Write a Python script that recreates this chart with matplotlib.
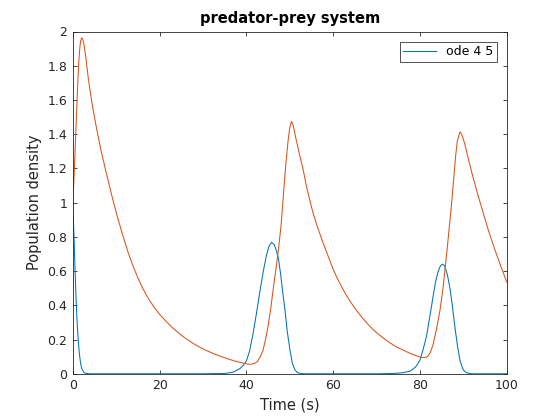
import matplotlib
matplotlib.use("Agg")
import matplotlib.pyplot as plt
from matplotlib.ticker import FormatStrFormatter, MultipleLocator

# values
# first series (blue, in legend as "ode 4 5")
t_blue = [0, 0.25, 0.5, 0.75, 1.0, 1.25, 1.5, 1.75, 2.0, 2.5, 3.0, 4.0, 10, 20, 30,
          35, 37, 38.5, 39.3, 40, 40.7, 41.5, 42.3, 43.1, 43.9, 44.6, 45.2, 45.8, 46.4,
          46.9, 47.4, 47.9, 48.4, 48.9, 49.4, 50.0, 50.6, 51.2, 51.8, 52.5, 53.5,
          60, 70, 74, 76, 77.7, 79, 80, 80.8, 81.5, 82.3, 83, 83.6, 84.2, 84.7, 85.2,
          85.7, 86.3, 86.9, 87.5, 88, 88.6, 89.2, 89.8, 90.3, 91, 92, 100]
y_blue = [1.0, 0.82, 0.62, 0.44, 0.3, 0.2, 0.12, 0.07, 0.035, 0.01, 0.002, 0.0, 0, 0, 0,
          0.002, 0.01, 0.03, 0.05, 0.075, 0.13, 0.23, 0.35, 0.48, 0.6, 0.69, 0.745, 0.768, 0.755,
          0.72, 0.67, 0.58, 0.47, 0.37, 0.25, 0.145, 0.06, 0.022, 0.007, 0.002, 0,
          0, 0, 0.002, 0.006, 0.015, 0.04, 0.08, 0.15, 0.22, 0.34, 0.45, 0.54, 0.6, 0.63, 0.641,
          0.63, 0.58, 0.5, 0.39, 0.28, 0.17, 0.08, 0.032, 0.013, 0.004, 0, 0]

# second series (orange)
t_orange = [0, 0.2, 0.4, 0.6, 0.8, 1.0, 1.2, 1.4, 1.6, 1.8, 2.05, 2.3, 2.6, 3.0, 3.5,
            4.0, 4.6, 5.5, 6.5, 7.7, 9.2, 10.3, 11.5, 12.6, 13.8, 15.0, 16.1, 17.4, 18.7,
            20.1, 21.6, 23.1, 24.7, 26.2, 27.7, 29.6, 31.6, 33.5, 35.4, 37.0, 38.5, 39.5,
            40.3, 41.0, 41.8, 42.5, 43.2, 43.8, 44.4, 45.0, 45.6, 46.2, 46.8, 47.4, 48.0,
            48.6, 49.1, 49.6, 50.0, 50.4, 50.8, 51.5, 52.3, 53.1, 53.8, 54.6, 55.3, 56.1,
            56.9, 57.7, 58.8, 60.0, 61, 62, 63, 64, 65, 66, 67, 68, 69, 70, 71.5, 73, 74.5,
            76, 77.5, 78.5, 79.5, 80.3, 81.0, 81.7, 82.4, 83.0, 83.8, 84.6, 85.3, 85.8,
            86.3, 86.8, 87.3, 87.7, 88.2, 88.6, 89.2, 89.6, 90.3, 91.2, 92.2, 93.3, 94.5,
            95.8, 97.2, 98.6, 100]
y_orange = [1.0, 1.1, 1.22, 1.35, 1.48, 1.61, 1.73, 1.83, 1.9, 1.945, 1.963, 1.955, 1.92, 1.85, 1.74,
            1.65, 1.555, 1.43, 1.305, 1.175, 1.02, 0.915, 0.81, 0.72, 0.635, 0.56, 0.5, 0.44, 0.39,
            0.345, 0.303, 0.266, 0.232, 0.203, 0.178, 0.15, 0.127, 0.107, 0.09, 0.077, 0.067, 0.061,
            0.057, 0.056, 0.06, 0.07, 0.1, 0.135, 0.2, 0.28, 0.38, 0.5, 0.61, 0.73, 0.87,
            1.07, 1.23, 1.36, 1.44, 1.475, 1.45, 1.364, 1.275, 1.19, 1.1, 1.015, 0.945, 0.879,
            0.82, 0.762, 0.69, 0.61, 0.555, 0.505, 0.46, 0.42, 0.383, 0.35, 0.318, 0.29, 0.264, 0.24, 0.21, 0.182, 0.158,
            0.14, 0.122, 0.112, 0.102, 0.096, 0.094, 0.1, 0.125, 0.17, 0.26, 0.37, 0.5, 0.62,
            0.74, 0.87, 1.0, 1.12, 1.27, 1.36, 1.413, 1.4, 1.345, 1.25, 1.15, 1.05, 0.945,
            0.835, 0.728, 0.63, 0.535]

plt.rcParams['font.family'] = ['DejaVu Sans']
dark = '#262626'

fig = plt.figure(figsize=(5.6, 4.2), dpi=100)
ax = fig.add_axes([0.13, 0.11, 0.775, 0.815])

ax.plot(t_blue, y_blue, color='#0072BD', linewidth=0.75, label='ode 4 5')
ax.plot(t_orange, y_orange, color='#D95319', linewidth=0.75)

ax.set_xlim(0, 100)
ax.set_ylim(0, 2)
ax.xaxis.set_major_locator(MultipleLocator(20))
ax.yaxis.set_major_locator(MultipleLocator(0.2))
ax.xaxis.set_major_formatter(FormatStrFormatter('%g'))
ax.yaxis.set_major_formatter(FormatStrFormatter('%g'))
ax.tick_params(direction='in', top=True, right=True, length=3, width=0.6,
               labelsize=9, colors=dark, pad=4)
for s in ax.spines.values():
    s.set_linewidth(0.6)
    s.set_color(dark)

ax.set_title('predator-prey system', fontsize=10.5, fontweight='bold', pad=6)
ax.set_xlabel('Time (s)', fontsize=10.5, color=dark, labelpad=4)
ax.set_ylabel('Population density', fontsize=10.5, color=dark, labelpad=4)

leg = ax.legend(loc='upper right', fontsize=9, frameon=True, fancybox=False,
                borderaxespad=0.8, handlelength=2.6, borderpad=0.3)
leg.get_frame().set_edgecolor('black')
leg.get_frame().set_linewidth(0.6)

fig.savefig('out.png', dpi=100)
